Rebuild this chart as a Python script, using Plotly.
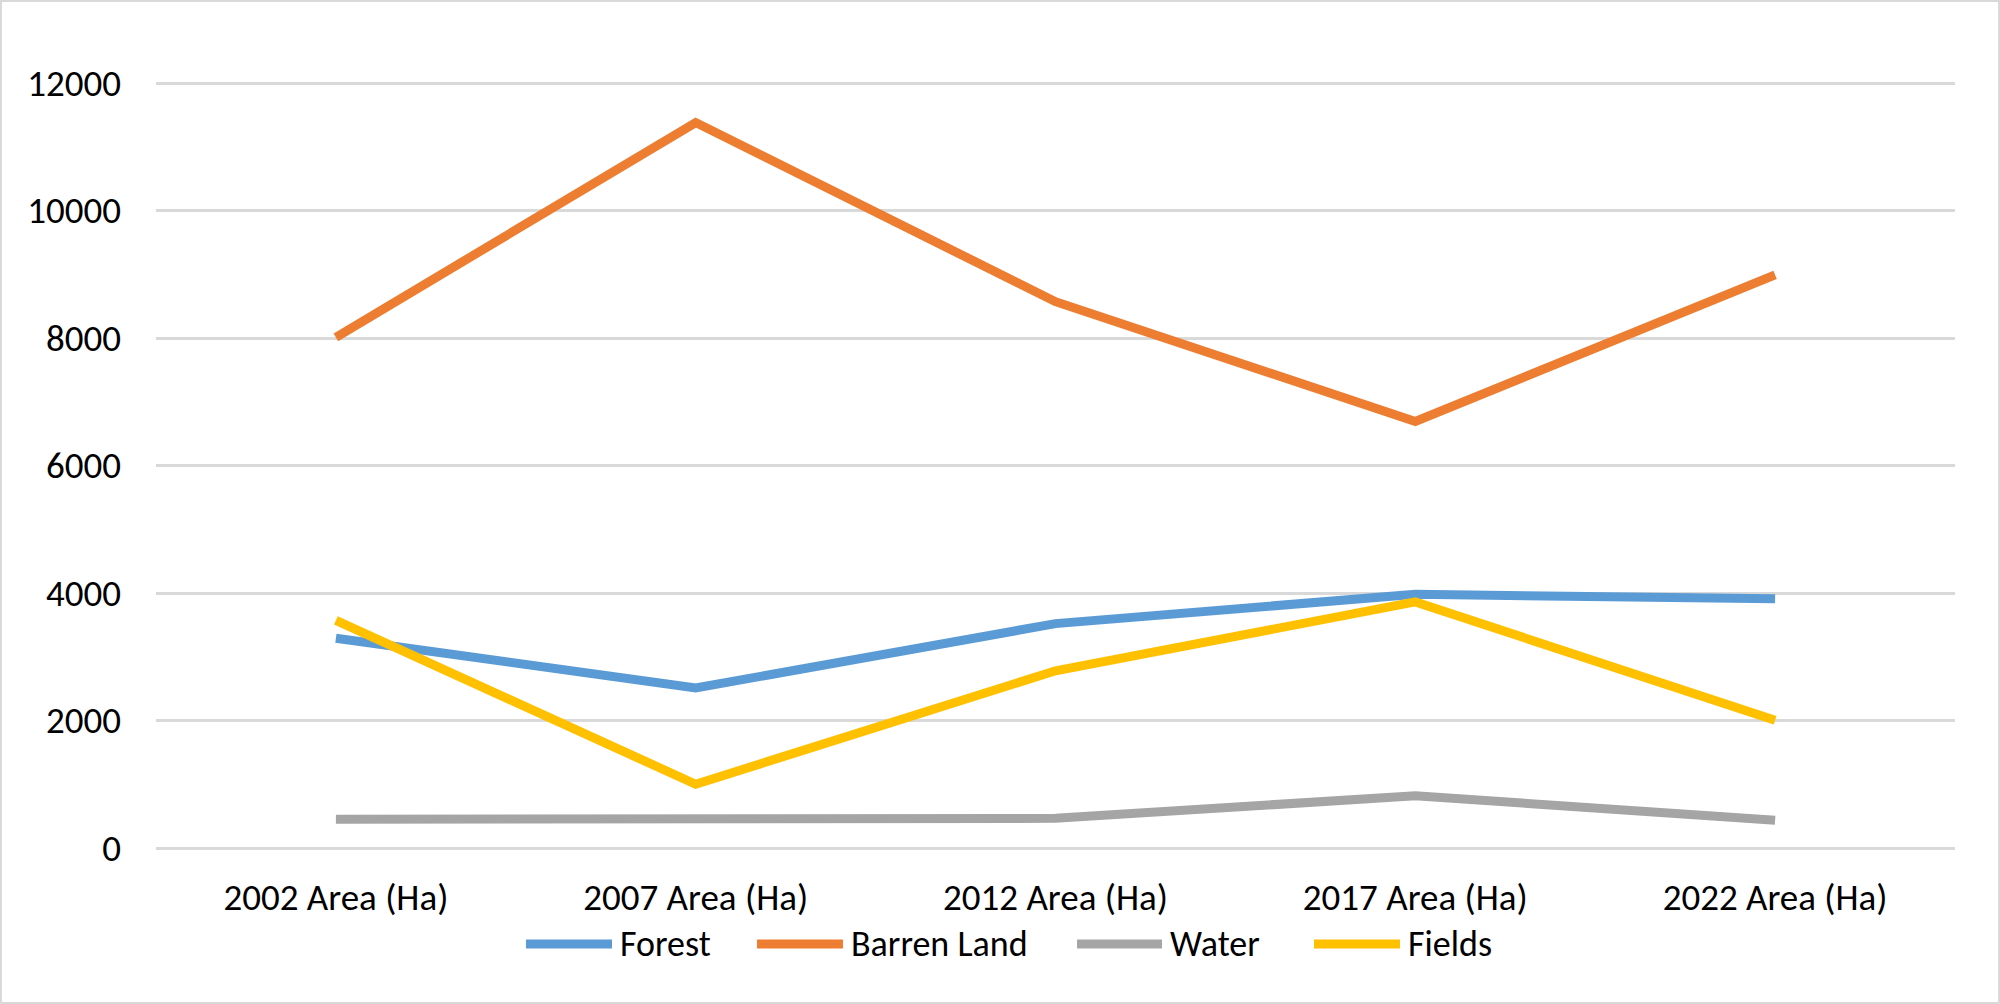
import plotly.graph_objects as go

# Land cover area per survey year (hectares)
categories = ["2002 Area (Ha)", "2007 Area (Ha)", "2012 Area (Ha)", "2017 Area (Ha)", "2022 Area (Ha)"]
forest = [3290, 2510, 3520, 3980, 3910]
barren_land = [8010, 11380, 8570, 6690, 8990]
water = [450, 470, 465, 820, 435]
fields = [3570, 1000, 2780, 3860, 2005]

series_names = ["Forest", "Barren Land", "Water", "Fields"]
series_values = [forest, barren_land, water, fields]
series_colors = ["#5B9BD5", "#ED7D31", "#A5A5A5", "#FFC000"]

FONT = "Carlito, Lato, 'Open Sans', sans-serif"

# Page geometry (pixels): 12000 gridline at y=83, 0 gridline at y=848
W, H = 2000, 1004
PAD = 4  # extra pixels so the edge gridlines are drawn
L, R = 156, 45
T, B = 83 - PAD, H - 848 - PAD
plot_w = W - L - R
plot_h = H - T - B
units_per_px = 12000 / (plot_h - 2 * PAD)
y_range = [-PAD * units_per_px, 12000 + PAD * units_per_px]


def px_x(px):
    return (px - L) / plot_w


def px_y(py):
    return (H - B - py) / plot_h


fig = go.Figure()

for name, vals, color in zip(series_names, series_values, series_colors):
    fig.add_trace(go.Scatter(
        x=categories,
        y=vals,
        name=name,
        mode="lines",
        line=dict(color=color, width=9),
        showlegend=False
    ))

# Hand-made legend so the swatches are as long as the reference ones
legend_items = [(526, 612, 618), (757, 843, 849), (1077, 1162, 1168), (1314, 1400, 1406)]
legend_y = 944
shapes = []
annotations = []
for (s0, s1, tx), name, color in zip(legend_items, series_names, series_colors):
    shapes.append(dict(
        type="line", xref="paper", yref="paper",
        x0=px_x(s0), x1=px_x(s1), y0=px_y(legend_y), y1=px_y(legend_y),
        line=dict(color=color, width=9)
    ))
    annotations.append(dict(
        xref="paper", yref="paper", x=px_x(tx), y=px_y(legend_y),
        xanchor="left", yanchor="middle", showarrow=False,
        text=name, font=dict(family=FONT, size=36, color="#000000")
    ))

# Outer chart border
shapes.append(dict(
    type="rect", xref="paper", yref="paper",
    x0=px_x(1), x1=px_x(W - 1), y0=px_y(H - 1), y1=px_y(1),
    line=dict(color="#D9D9D9", width=2)
))

fig.update_layout(
    width=W,
    height=H,
    margin=dict(l=L, r=R, t=T, b=B),
    paper_bgcolor="white",
    plot_bgcolor="white",
    font=dict(family=FONT, size=37, color="#000000"),
    showlegend=False,
    xaxis=dict(
        type="category",
        range=[-0.5, 4.5],
        showgrid=False,
        zeroline=False,
        showline=False,
        ticks="",
        ticklabelstandoff=20,
        tickfont=dict(family=FONT, size=37, color="#000000")
    ),
    yaxis=dict(
        range=y_range,
        tick0=0,
        dtick=2000,
        tickformat="d",
        showgrid=True,
        gridcolor="#D9D9D9",
        gridwidth=2.5,
        zeroline=False,
        showline=False,
        ticks="",
        ticklabelstandoff=34,
        tickfont=dict(family=FONT, size=37, color="#000000")
    ),
    shapes=shapes,
    annotations=annotations
)

fig.write_html(
    "out.html",
    config={"displayModeBar": False},
    post_script="document.body.style.margin='0';"
)
